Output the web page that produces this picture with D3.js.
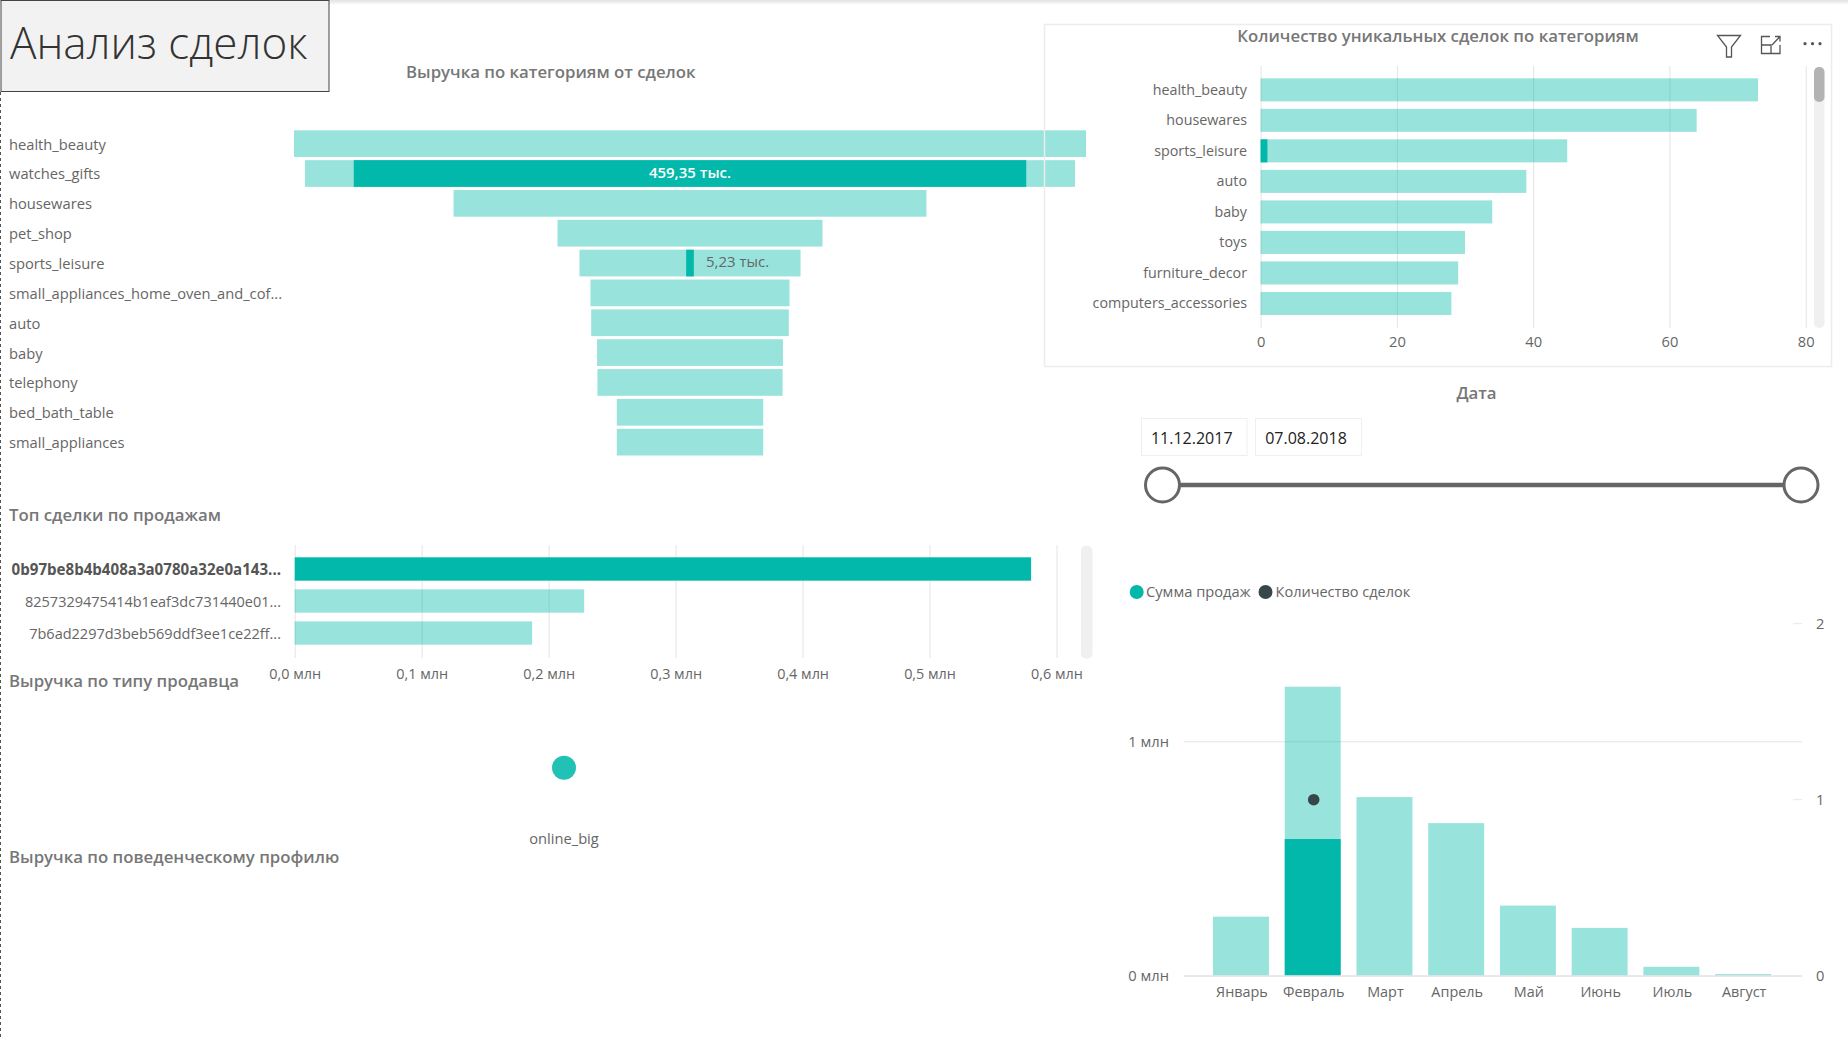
<!DOCTYPE html>
<html>
<head>
<meta charset="utf-8">
<script src="https://cdn.jsdelivr.net/npm/d3@7"></script>
<style>
  html, body { margin: 0; padding: 0; background: #fff; overflow: hidden; }
  svg { display: block; font-family: "Open Sans", "Noto Sans", sans-serif; }
  .domain { display: none; }
</style>
</head>
<body>
<svg id="drawing_region" width="1848" height="1040"></svg>
<script>
// funnel: revenue by category, thousands
const funnel_categories = ['health_beauty', 'watches_gifts', 'housewares', 'pet_shop', 'sports_leisure',
    'small_appliances_home_oven_and_cof...', 'auto', 'baby', 'telephony', 'bed_bath_table', 'small_appliances'];
const funnel_values = [541, 526, 323, 181, 151, 136, 135, 127, 126.5, 100, 100];
const funnel_highlight = [null, 459.35, null, null, 5.23, null, null, null, null, null, null];
const funnel_labels = [null, '459,35 тыс.', null, null, '5,23 тыс.', null, null, null, null, null, null];

// unique deals by category
const count_categories = ['health_beauty', 'housewares', 'sports_leisure', 'auto', 'baby', 'toys', 'furniture_decor', 'computers_accessories'];
const count_values = [73, 64, 45, 39, 34, 30, 29, 28];
const count_highlight = [0, 0, 1, 0, 0, 0, 0, 0];
const count_ticks = [0, 20, 40, 60, 80];

// top deals, millions
const deal_labels = ['0b97be8b4b408a3a0780a32e0a143...', '8257329475414b1eaf3dc731440e01...', '7b6ad2297d3beb569ddf3ee1ce22ff...'];
const deal_values = [0.58, 0.228, 0.187];
const deal_ticks = [0, 0.1, 0.2, 0.3, 0.4, 0.5, 0.6];

// monthly sales, millions
const months = ['Январь', 'Февраль', 'Март', 'Апрель', 'Май', 'Июнь', 'Июль', 'Август'];
const month_sales = [0.252, 1.233, 0.762, 0.651, 0.299, 0.204, 0.038, 0.007];
const month_highlight = [0, 0.583, 0, 0, 0, 0, 0, 0];
const month_deals = [null, 1, null, null, null, null, null, null];

const date_from = '11.12.2017';
const date_to = '07.08.2018';
const seller_types = ['online_big'];

const TEAL = '#01b8aa';
const DARK = '#374649';
const TEXT = '#666666';
const GRID = '#e4e4e4';
const LABEL_SIZE = 14.7;
const TITLE_SIZE = 16.8;

const svg = d3.select('#drawing_region');

function label( x, y, text, opts = {} ) {
    return svg.append('text')
        .attr('x', x).attr('y', y)
        .attr('dy', '0.35em')
        .attr('text-anchor', opts.anchor || 'start')
        .attr('font-size', opts.size || LABEL_SIZE)
        .attr('font-weight', opts.weight || 400)
        .attr('fill', opts.color || TEXT)
        .text(text);
}

function style_axis( g, size ) {
    g.selectAll('.tick line').attr('stroke', GRID);
    g.selectAll('.tick text').attr('fill', TEXT).attr('font-size', size || LABEL_SIZE);
    g.attr('font-family', null);
}

// top shadow + dashed page edge
const defs = svg.append('defs');
const top_grad = defs.append('linearGradient').attr('id', 'top_shadow').attr('x1', 0).attr('x2', 0).attr('y1', 0).attr('y2', 1);
top_grad.append('stop').attr('offset', 0).attr('stop-color', '#e2e2e2');
top_grad.append('stop').attr('offset', 1).attr('stop-color', '#ffffff');
svg.append('rect').attr('width', 1848).attr('height', 5).attr('fill', 'url(#top_shadow)');
svg.append('line').attr('x1', 0.5).attr('x2', 0.5).attr('y1', 92).attr('y2', 1040)
    .attr('stroke', '#555').attr('stroke-dasharray', '3,3');

// title box
svg.append('rect').attr('x', 1).attr('y', 0.5).attr('width', 328).attr('height', 91)
    .attr('fill', '#f2f2f2').attr('stroke', '#444');
label(10, 44, 'Анализ сделок', {size: 44, color: '#333', weight: 300});

// funnel
label(406, 72, 'Выручка по категориям от сделок', {size: TITLE_SIZE, weight: 600, color: '#777'});
{
    const cx = 690;
    const w = d3.scaleLinear().domain([0, 541]).range([0, 792]);
    const y = d3.scaleBand().domain(funnel_categories).range([130.3, 455.5]).paddingInner(0.105);
    const g = svg.append('g');
    g.selectAll('rect.all').data(funnel_categories).join('rect')
        .attr('x', (d, i) => cx - w(funnel_values[i]) / 2)
        .attr('y', d => y(d))
        .attr('width', (d, i) => w(funnel_values[i]))
        .attr('height', y.bandwidth())
        .attr('fill', TEAL).attr('opacity', 0.4);
    g.selectAll('rect.hi').data(funnel_categories.filter((d, i) => funnel_highlight[i] !== null)).join('rect')
        .attr('x', d => cx - w(funnel_highlight[funnel_categories.indexOf(d)]) / 2)
        .attr('y', d => y(d))
        .attr('width', d => w(funnel_highlight[funnel_categories.indexOf(d)]))
        .attr('height', y.bandwidth())
        .attr('fill', TEAL);
    funnel_categories.forEach(d => {
        label(9, y(d) + y.bandwidth() / 2 + 0.8, d);
    });
    label(cx, y(funnel_categories[1]) + y.bandwidth() / 2 - 1, funnel_labels[1], {anchor: 'middle', color: '#fff', size: 15, weight: 600});
    label(706, y(funnel_categories[4]) + y.bandwidth() / 2 - 1, funnel_labels[4], {size: 15});
}

// deals count panel
{
    svg.append('rect').attr('x', 1044.5).attr('y', 24.5).attr('width', 787).attr('height', 342)
        .attr('fill', 'none').attr('stroke', '#ececec').attr('stroke-width', 1.5);
    label(1438, 36, 'Количество уникальных сделок по категориям', {anchor: 'middle', size: TITLE_SIZE, weight: 600, color: '#777'});

    const x = d3.scaleLinear().domain([0, 80]).range([1260.6, 1805.7]);
    const y = d3.scaleBand().domain(count_categories).range([78.3, 315]).paddingInner(0.245);
    const axis = svg.append('g').attr('transform', 'translate(0, 328)')
        .call(d3.axisBottom(x).tickValues(count_ticks).tickSize(-262).tickPadding(9).tickFormat(d3.format('d')));
    style_axis(axis);
    svg.append('g').selectAll('rect').data(count_categories).join('rect')
        .attr('x', x(0)).attr('y', d => y(d))
        .attr('width', (d, i) => x(count_values[i]) - x(0))
        .attr('height', y.bandwidth())
        .attr('fill', TEAL).attr('opacity', 0.4);
    svg.append('g').selectAll('rect').data(count_categories).join('rect')
        .attr('x', x(0)).attr('y', d => y(d))
        .attr('width', (d, i) => x(count_highlight[i]) - x(0))
        .attr('height', y.bandwidth())
        .attr('fill', TEAL);
    count_categories.forEach(d => label(1247, y(d) + y.bandwidth() / 2, d, {anchor: 'end', size: 14.3}));

    // scrollbar
    svg.append('rect').attr('x', 1814).attr('y', 67).attr('width', 10.5).attr('height', 261).attr('rx', 5).attr('fill', '#f0f0f0');
    svg.append('rect').attr('x', 1814).attr('y', 67).attr('width', 10.5).attr('height', 35).attr('rx', 5).attr('fill', '#b3b3b3');

    // visual header icons
    svg.append('path').attr('d', 'M1717.5,35.5 H1740.5 L1731.5,47 V57 H1726.5 V47 Z')
        .attr('fill', 'none').attr('stroke', '#555').attr('stroke-width', 1.3);
    svg.append('path').attr('d', 'M1770,36.5 H1761.5 V53.5 H1780 V45 M1761.5,45 H1771 V53.5 M1772,45 L1780,36.5 M1775,36.5 H1780 V41.5')
        .attr('fill', 'none').attr('stroke', '#555').attr('stroke-width', 1.3);
    [1805, 1812.5, 1820].forEach(cx => {
        svg.append('circle').attr('cx', cx).attr('cy', 43.7).attr('r', 1.6).attr('fill', '#555');
    });
}

// date slicer
{
    label(1476.5, 393, 'Дата', {anchor: 'middle', size: TITLE_SIZE, weight: 600, color: '#777'});
    [[1141, 105.5, date_from], [1255, 106, date_to]].forEach(b => {
        svg.append('rect').attr('x', b[0] + 0.5).attr('y', 418.5).attr('width', b[1]).attr('height', 37)
            .attr('fill', '#fff').attr('stroke', '#efefef');
        label(b[0] + b[1] / 2 - 2, 438.5, b[2], {anchor: 'middle', size: 16, color: '#222'});
    });
    svg.append('line').attr('x1', 1162.5).attr('x2', 1801).attr('y1', 485).attr('y2', 485)
        .attr('stroke', '#666').attr('stroke-width', 4.5);
    [1162.5, 1801].forEach(cx => {
        svg.append('circle').attr('cx', cx).attr('cy', 485).attr('r', 17)
            .attr('fill', '#fff').attr('stroke', '#666').attr('stroke-width', 3);
    });
}

// top deals
{
    label(9, 515, 'Топ сделки по продажам', {size: TITLE_SIZE, weight: 600, color: '#777'});
    const x = d3.scaleLinear().domain([0, 0.6]).range([294.7, 1056.5]);
    const y = d3.scaleBand().domain(deal_labels).range([557.3, 644.7]).paddingInner(0.27);
    const axis = svg.append('g').attr('transform', 'translate(0, 658)')
        .call(d3.axisBottom(x).tickValues(deal_ticks).tickSize(-113).tickPadding(11)
            .tickFormat(d => d.toFixed(1).replace('.', ',') + ' млн'));
    style_axis(axis, 14.4);
    svg.append('g').selectAll('rect').data(deal_labels).join('rect')
        .attr('x', x(0)).attr('y', d => y(d))
        .attr('width', (d, i) => x(deal_values[i]) - x(0))
        .attr('height', y.bandwidth())
        .attr('fill', TEAL)
        .attr('opacity', (d, i) => i === 0 ? 1 : 0.4);
    deal_labels.forEach((d, i) => label(281, y(d) + y.bandwidth() / 2 + 0.8, d, {
        anchor: 'end', weight: i === 0 ? 700 : 400, color: i === 0 ? '#555' : TEXT, size: i === 0 ? 15.1 : 14.5
    }));
    svg.append('rect').attr('x', 1081).attr('y', 545.7).attr('width', 11.5).attr('height', 113).attr('rx', 5).attr('fill', '#f0f0f0');
}

// seller type
label(9, 681, 'Выручка по типу продавца', {size: TITLE_SIZE, weight: 600, color: '#777'});
svg.append('circle').attr('cx', 564).attr('cy', 767.7).attr('r', 12).attr('fill', TEAL).attr('opacity', 0.87);
label(564, 839, seller_types[0], {anchor: 'middle'});
label(9, 857, 'Выручка по поведенческому профилю', {size: TITLE_SIZE, weight: 600, color: '#777'});

// monthly combo
{
    const x = d3.scaleBand().domain(months).range([1205.1, 1779]).paddingInner(0.22).paddingOuter(0.11);
    const y = d3.scaleLinear().domain([0, 1]).range([975.7, 741.3]);
    const y2 = d3.scaleLinear().domain([0, 2]).range([975.7, 623.7]);

    const left = svg.append('g').attr('transform', 'translate(1184, 0)')
        .call(d3.axisLeft(y).tickValues([0, 1]).tickSize(-618).tickPadding(15).tickFormat(d => d + ' млн'));
    style_axis(left);

    const right = svg.append('g').attr('transform', 'translate(1802, 0)')
        .call(d3.axisRight(y2).tickValues([0, 1, 2]).tickSize(0).tickPadding(14).tickFormat(d3.format('d')));
    style_axis(right);
    [1, 2].forEach(v => {
        svg.append('line').attr('x1', 1793).attr('x2', 1802).attr('y1', y2(v)).attr('y2', y2(v)).attr('stroke', '#e8e8e8');
    });

    svg.append('g').selectAll('rect').data(months).join('rect')
        .attr('x', d => x(d)).attr('y', (d, i) => y(month_sales[i]))
        .attr('width', x.bandwidth())
        .attr('height', (d, i) => y(0) - y(month_sales[i]))
        .attr('fill', TEAL).attr('opacity', 0.4);
    svg.append('g').selectAll('rect').data(months).join('rect')
        .attr('x', d => x(d)).attr('y', (d, i) => y(month_highlight[i]))
        .attr('width', x.bandwidth())
        .attr('height', (d, i) => y(0) - y(month_highlight[i]))
        .attr('fill', TEAL);
    svg.append('g').selectAll('circle').data(months.filter((d, i) => month_deals[i] !== null)).join('circle')
        .attr('cx', d => x(d) + x.bandwidth() / 2 + 1)
        .attr('cy', d => y2(month_deals[months.indexOf(d)]))
        .attr('r', 5.8).attr('fill', DARK);

    svg.append('line').attr('x1', 1184).attr('x2', 1802).attr('y1', 976).attr('y2', 976).attr('stroke', GRID).attr('stroke-width', 1.5);
    months.forEach(d => label(x(d) + x.bandwidth() / 2 + 1, 992, d, {anchor: 'middle', size: 14.4}));

    // legend
    svg.append('circle').attr('cx', 1136.7).attr('cy', 592).attr('r', 7).attr('fill', TEAL);
    label(1146, 592, 'Сумма продаж');
    svg.append('circle').attr('cx', 1265.5).attr('cy', 592).attr('r', 7).attr('fill', DARK);
    label(1275.6, 592, 'Количество сделок', {size: 14.5});
}
</script>
</body>
</html>
